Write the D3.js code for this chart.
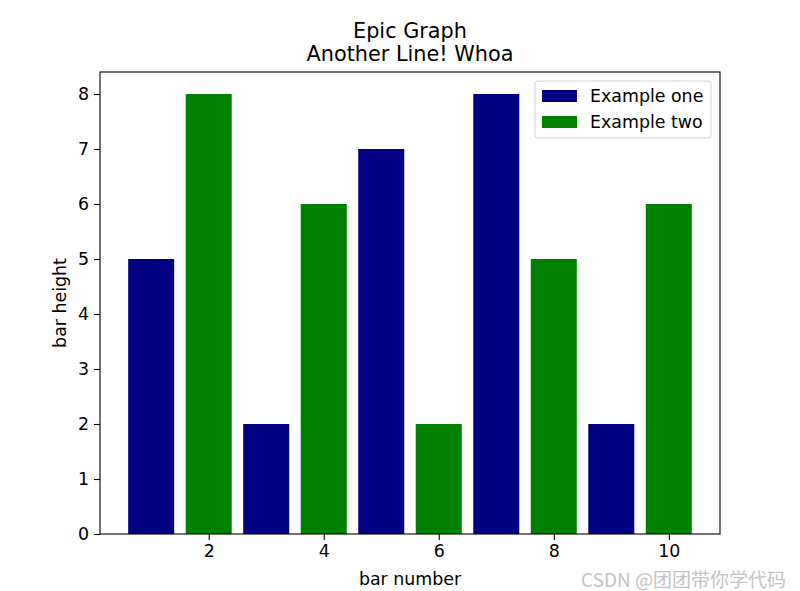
<!DOCTYPE html>
<html>
<head>
<meta charset="utf-8">
<script src="https://cdn.jsdelivr.net/npm/d3@7"></script>
<style>
  body { margin: 0; background: #fff; }
  svg { display: block; font-family: "DejaVu Sans", sans-serif; }
</style>
</head>
<body>
<script>
// data
var xOne = [1, 3, 5, 7, 9];
var yOne = [5, 2, 7, 8, 2];
var xTwo = [2, 4, 6, 8, 10];
var yTwo = [8, 6, 2, 5, 6];
var xTicks = [2, 4, 6, 8, 10];
var yTicks = [0, 1, 2, 3, 4, 5, 6, 7, 8];
var seriesNames = ["Example one", "Example two"];
var seriesColors = ["#000080", "#008000"];

var W = 800, H = 591;
var margin = {top: 72, right: 80, bottom: 57, left: 100};
var width = W - margin.left - margin.right;
var height = 534 - margin.top;

var svg = d3.select("body").append("svg")
  .attr("width", W)
  .attr("height", H);

var g = svg.append("g")
  .attr("transform", "translate(" + margin.left + "," + margin.top + ")");

var barW = 0.8;
var xScale = d3.scaleLinear().domain([0.11, 10.89]).range([0, width]);
var yScale = d3.scaleLinear().domain([0, 8.4]).range([height, 0]);

function drawBars(xs, ys, color){
  var data = xs.map(function(x, i){ return {x: x, y: ys[i]}; });
  g.append("g").selectAll("rect").data(data).enter()
    .append("rect")
    .attr("x", function(d){ return xScale(d.x - barW / 2); })
    .attr("width", function(d){ return xScale(d.x + barW / 2) - xScale(d.x - barW / 2); })
    .attr("y", function(d){ return yScale(d.y); })
    .attr("height", function(d){ return yScale(0) - yScale(d.y); })
    .attr("fill", color);
}
drawBars(xOne, yOne, seriesColors[0]);
drawBars(xTwo, yTwo, seriesColors[1]);

// axes
var xAxis = d3.axisBottom(xScale).tickValues(xTicks).tickSize(6).tickPadding(5);
var yAxis = d3.axisLeft(yScale).tickValues(yTicks).tickSize(6).tickPadding(5);

var xg = g.append("g").attr("transform", "translate(0," + height + ")").call(xAxis);
var yg = g.append("g").call(yAxis);
[xg, yg].forEach(function(a){
  a.select(".domain").remove();
  a.selectAll("line").attr("stroke", "#000").attr("stroke-width", 1.1);
  a.selectAll("text").attr("fill", "#000").style("font-size", "17.4px")
    .style("font-family", "DejaVu Sans, sans-serif");
});

// frame
g.append("rect")
  .attr("x", 0).attr("y", 0)
  .attr("width", width).attr("height", height)
  .attr("fill", "none").attr("stroke", "#000").attr("stroke-width", 1.1);

// title
svg.append("text").attr("x", margin.left + width / 2).attr("y", 38)
  .attr("text-anchor", "middle").style("font-size", "20.8px").text("Epic Graph");
svg.append("text").attr("x", margin.left + width / 2).attr("y", 61)
  .attr("text-anchor", "middle").style("font-size", "20.8px").text("Another Line! Whoa");

// axis labels
svg.append("text").attr("x", margin.left + width / 2).attr("y", 585)
  .attr("text-anchor", "middle").style("font-size", "17.4px").text("bar number");
svg.append("text")
  .attr("transform", "translate(66," + (margin.top + height / 2) + ") rotate(-90)")
  .attr("text-anchor", "middle").style("font-size", "17.4px").text("bar height");

// legend
var lg = svg.append("g").attr("transform", "translate(535,81)");
lg.append("rect").attr("width", 176).attr("height", 57).attr("rx", 3)
  .attr("fill", "#fff").attr("fill-opacity", 0.8)
  .attr("stroke", "#d0d0d0").attr("stroke-width", 1);
seriesNames.forEach(function(name, i){
  var row = lg.append("g").attr("transform", "translate(0," + (15 + i * 26) + ")");
  row.append("rect").attr("x", 7).attr("y", -6).attr("width", 35).attr("height", 12)
    .attr("fill", seriesColors[i]);
  row.append("text").attr("x", 55).attr("y", 6).style("font-size", "17.4px").text(name);
});

// watermark
svg.append("text").attr("x", 786).attr("y", 587).attr("text-anchor", "end")
  .attr("fill", "#c4c4c4")
  .style("font-family", "'Noto Sans CJK SC', sans-serif").style("font-size", "19px")
  .text("CSDN @团团带你学代码");
</script>
</body>
</html>
